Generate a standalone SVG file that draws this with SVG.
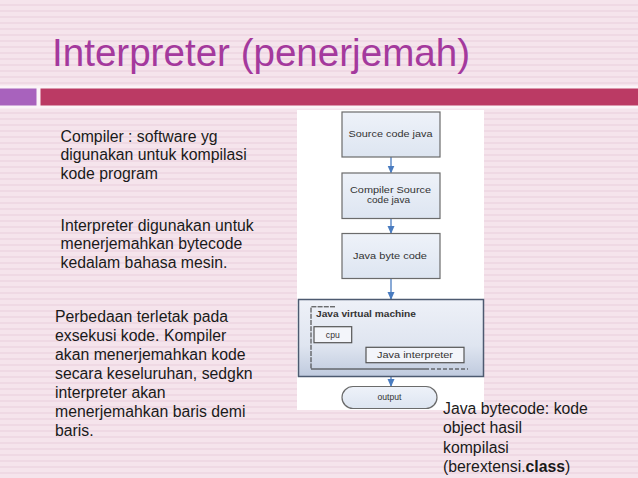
<svg xmlns="http://www.w3.org/2000/svg" width="638" height="478" viewBox="0 0 638 478">
<defs>
<pattern id="stripes" x="0" y="0" width="8" height="6" patternUnits="userSpaceOnUse">
<rect x="0" y="0" width="8" height="6" fill="#f5e4ec"/>
<rect x="0" y="4" width="8" height="2" fill="#efd9e4"/>
</pattern>
<linearGradient id="boxg" x1="0" y1="0" x2="0" y2="1">
<stop offset="0" stop-color="#eef2f9"/>
<stop offset="1" stop-color="#dde5f1"/>
</linearGradient>
<linearGradient id="jvmg" x1="0" y1="0" x2="0" y2="1">
<stop offset="0" stop-color="#eef1f8"/>
<stop offset="0.6" stop-color="#dfe5f0"/>
<stop offset="1" stop-color="#bfcade"/>
</linearGradient>
<marker id="arr" viewBox="0 0 8 8" refX="7" refY="4" markerWidth="8" markerHeight="8" markerUnits="userSpaceOnUse" orient="auto">
<path d="M0,0.5 L8,4 L0,7.5 z" fill="#4a7cc0"/>
</marker>
</defs>
<style>
.body{font-family:"Liberation Sans",Arial,sans-serif;font-size:15.8px;fill:#1a1a1a}
.fc{font-family:"Liberation Sans",Arial,sans-serif;font-size:8.6px;fill:#333}
.box{fill:url(#boxg);stroke:#6b6b6b;stroke-width:1.2}
.ibox{fill:#f3f5fa;stroke:#555;stroke-width:1.2}
.conn{stroke:#4a7cc0;stroke-width:1.3;fill:none;marker-end:url(#arr)}
</style>
<rect width="638" height="478" fill="url(#stripes)"/>
<g id="title">
<text x="52" y="66" font-family="'Liberation Sans',Arial,sans-serif" font-size="38.5" fill="#a4399d" textLength="418" lengthAdjust="spacingAndGlyphs">Interpreter (penerjemah)</text>
</g>
<g id="bars">
<rect x="0" y="85.5" width="638" height="23" fill="#fbf4f7"/>
<rect x="0" y="88.5" width="36.5" height="17" fill="#a862bd"/>
<rect x="40.5" y="88.5" width="597.5" height="17" fill="#bb3a64"/>
</g>
<g id="text-left">
<text class="body" x="60.5" y="141.5">Compiler : software yg</text>
<text class="body" x="60.5" y="160.2">digunakan untuk kompilasi</text>
<text class="body" x="60.5" y="179">kode program</text>
<text class="body" x="60.5" y="230.5">Interpreter digunakan untuk</text>
<text class="body" x="60.5" y="249.2">menerjemahkan bytecode</text>
<text class="body" x="60.5" y="268">kedalam bahasa mesin.</text>
<text class="body" x="55" y="321.5">Perbedaan terletak pada</text>
<text class="body" x="55" y="340.6">exsekusi kode. Kompiler</text>
<text class="body" x="55" y="359.7">akan menerjemahkan kode</text>
<text class="body" x="55" y="378.8">secara keseluruhan, sedgkn</text>
<text class="body" x="55" y="397.9">interpreter akan</text>
<text class="body" x="55" y="417">menerjemahkan baris demi</text>
<text class="body" x="55" y="436.1">baris.</text>
</g>
<g id="diagram-bg">
<rect x="297" y="110" width="187" height="300" fill="#ffffff"/>
</g>
<g id="connectors">
<line class="conn" x1="391" y1="157" x2="391" y2="172.5"/>
<line class="conn" x1="391" y1="218.5" x2="391" y2="233"/>
<line class="conn" x1="391" y1="278.5" x2="391" y2="299"/>
<line class="conn" x1="391" y1="376.5" x2="391" y2="386"/>
</g>
<g id="source">
<rect class="box" x="342" y="112" width="98" height="45"/>
<text class="fc" x="348.5" y="137" textLength="84" lengthAdjust="spacingAndGlyphs">Source code java</text>
</g>
<g id="compiler">
<rect class="box" x="342" y="173" width="98" height="45.5"/>
<text class="fc" x="350" y="193" font-size="8" textLength="81" lengthAdjust="spacingAndGlyphs">Compiler Source</text>
<text class="fc" x="367" y="203" font-size="8" textLength="43" lengthAdjust="spacingAndGlyphs">code java</text>
</g>
<g id="bytecode">
<rect class="box" x="342" y="233.5" width="98" height="45"/>
<text class="fc" x="353" y="258.5" textLength="74" lengthAdjust="spacingAndGlyphs">Java byte code</text>
</g>
<g id="jvm">
<rect x="298.5" y="299.5" width="185" height="77" fill="url(#jvmg)" stroke="#4d5a70" stroke-width="1.5"/>
<path d="M335,306.8 H311 V369" fill="none" stroke="#333" stroke-width="1" stroke-dasharray="5 1.2"/>
<path d="M311,369 H425" fill="none" stroke="#333" stroke-width="1"/>
<path d="M425,369 H468" fill="none" stroke="#333" stroke-width="1" stroke-dasharray="4 2"/>
<text class="fc" x="316" y="316.5" font-weight="bold" textLength="100" lengthAdjust="spacingAndGlyphs">Java virtual machine</text>
</g>
<g id="cpu">
<rect class="ibox" x="314" y="326.7" width="37.7" height="16"/>
<text class="fc" x="332.8" y="337.5" text-anchor="middle">cpu</text>
</g>
<g id="interpreter">
<rect class="ibox" x="366" y="347.3" width="98" height="15.4"/>
<text class="fc" x="377" y="358" textLength="76" lengthAdjust="spacingAndGlyphs">Java interpreter</text>
</g>
<g id="output">
<rect class="box" x="342" y="386.5" width="95" height="22" rx="11" ry="11" stroke="#555"/>
<text class="fc" x="389.5" y="400" text-anchor="middle">output</text>
</g>
<g id="text-right">
<text class="body" x="443" y="414">Java bytecode: kode</text>
<text class="body" x="443" y="433.3">object hasil</text>
<text class="body" x="443" y="452.6">kompilasi</text>
<text class="body" x="443" y="471.9">(berextensi.<tspan font-weight="bold">class</tspan>)</text>
</g>
</svg>
